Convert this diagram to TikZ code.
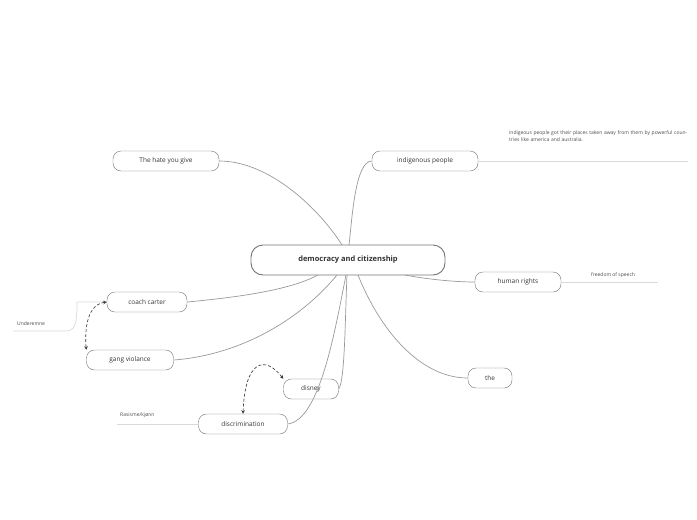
\documentclass[tikz,border=0pt]{standalone}
\usepackage{fontspec}
\setmainfont{Open Sans}
\begin{document}
\begin{tikzpicture}[x=1pt,y=-1pt,
 topic/.style={draw=black!55,rounded corners=8pt,minimum height=20pt,font=\fontsize{6.5}{8}\selectfont,text=black!80,inner sep=0pt},
 con/.style={draw=black!40,line width=0.7pt},
 sub/.style={draw=black!15,line width=0.7pt},
 small/.style={font=\fontsize{5}{6}\selectfont,text=black!70,inner sep=0pt,anchor=west},
 relline/.style={densely dashed,draw=black!80,line width=0.6pt,<->,>=stealth}]
\useasboundingbox (0,0) rectangle (697,520);
\node[topic,minimum width=194pt,minimum height=30pt,rounded corners=12pt,font=\bfseries\fontsize{7.5}{9}\selectfont,line width=0.9pt] (c) at (348,260) {democracy and citizenship};
\node[topic,minimum width=106pt] (h) at (166,161) {The hate you give};
\node[topic,minimum width=106pt] (i) at (425,161) {indigenous people};
\node[topic,minimum width=86pt] (r) at (518,282) {human rights};
\node[topic,minimum width=44pt] (t) at (490,378) {the};
\node[topic,minimum width=80pt] (cc) at (147,302) {coach carter};
\node[topic,minimum width=87pt] (g) at (130,360) {gang violance};
\node[topic,minimum width=55pt] (d) at (311,389) {disney};
\node[topic,minimum width=89pt] (di) at (243,424) {discrimination};
\draw[con] (h.east) .. controls (270,161) and (320,210) .. (342,245);
\draw[con] (i.west) .. controls (355,161) and (352,220) .. (349,245);
\draw[con] (r.west) .. controls (450,282) and (420,278) .. (405,275);
\draw[con] (t.west) .. controls (420,378) and (380,330) .. (358,275);
\draw[con] (cc.east) .. controls (240,297) and (290,290) .. (318,275);
\draw[con] (g.east) .. controls (240,355) and (300,320) .. (337,275);
\draw[con] (d.east) .. controls (345,380) and (345,320) .. (347,275);
\draw[con] (di.east) .. controls (320,420) and (335,330) .. (346,275);
\node[small] (u) at (17,324) {Underemne};
\coordinate (ue) at (13,331);
\draw[sub] (cc.west) -- (77,302) .. controls (77,325) and (75,331) .. (65,331) -- (ue);
\node[small] (rk) at (120,415) {Rasisme/kjønn};
\coordinate (rke) at (117,424);
\draw[sub] (di.west) -- (rke);
\node[small] (fs) at (591,275) {freedom of speech};
\coordinate (fse) at (658,282);
\draw[sub] (r.east) -- (fse);
\node[small,anchor=north west,align=left,text width=180pt,font=\fontsize{5}{7}\selectfont] (n) at (509,130) {indigeous people got their places taken away from them by powerful countries like america and australia.};
\coordinate (ne) at (688,161);
\draw[sub] (i.east) -- (ne);
\draw[relline] (cc.west) .. controls (85,305) and (85,335) .. (g.north west);
\draw[relline] (di.north) .. controls (245,360) and (265,355) .. (d.north west);
\end{tikzpicture}
\end{document}
